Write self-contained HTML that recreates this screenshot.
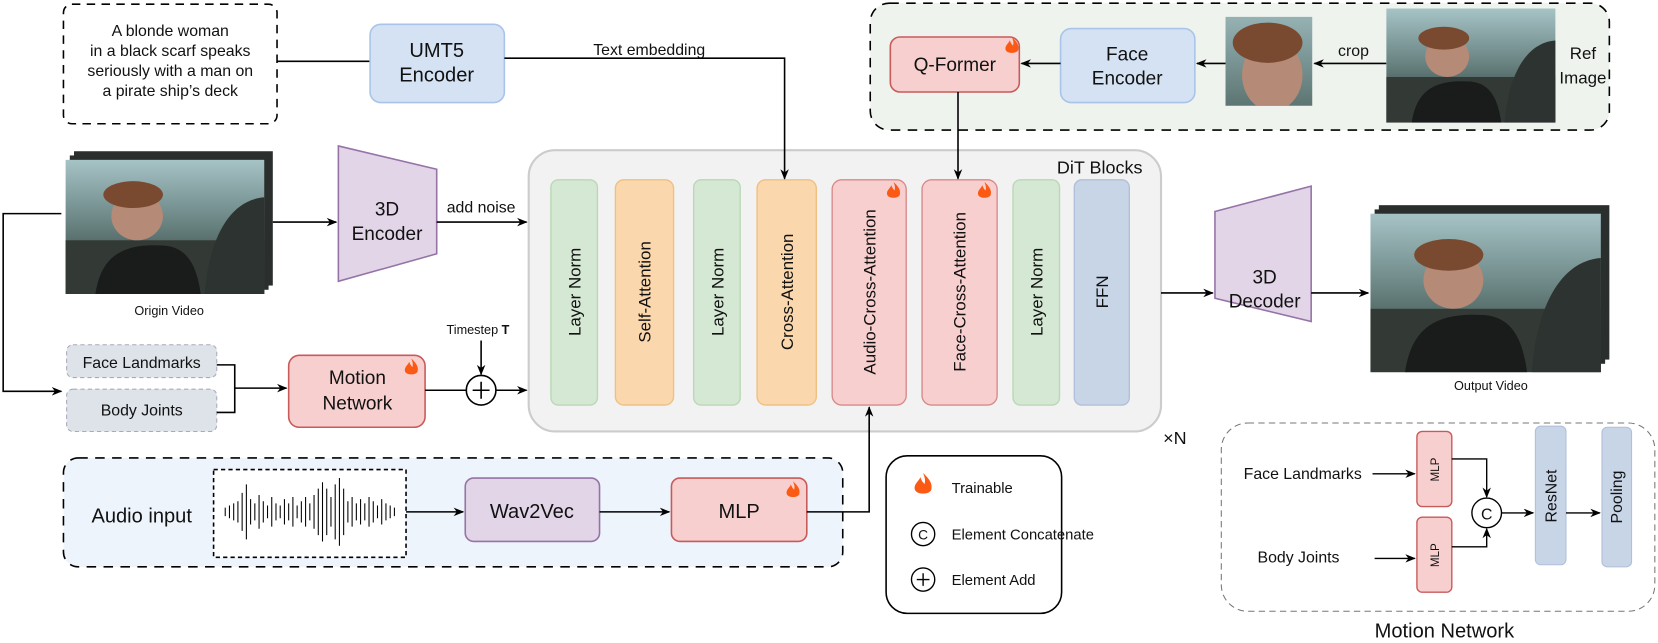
<!DOCTYPE html>
<html><head><meta charset="utf-8"><style>
html,body{margin:0;padding:0;background:#fff;}
svg{display:block;}
text{font-family:"Liberation Sans",sans-serif;fill:#111;}
</style></head><body>
<svg width="1658" height="643" viewBox="0 0 1568 608" preserveAspectRatio="none" xmlns="http://www.w3.org/2000/svg">
<defs>
<marker id="a" viewBox="0 0 10 10" refX="9" refY="5" markerWidth="10" markerHeight="10" orient="auto-start-reverse" markerUnits="userSpaceOnUse"><path d="M0,1 L10,5 L0,9 L3,5 z" fill="#000"/></marker>
<linearGradient id="ph" x1="0" y1="0" x2="0" y2="1"><stop offset="0" stop-color="#a6c3c6"/><stop offset="0.5" stop-color="#66807e"/><stop offset="1" stop-color="#252d2b"/></linearGradient>
<g id="flame"><path d="M0,-9 C4,-5 7,-2 6,3 C5,7 -5,7 -6,3 C-7,-1 -3,-3 -2,-6 C-1,-3 0,-2 1,-1 C2,-4 1,-6 0,-9 z" fill="#fb5a14"/></g>
<g id="photo">
<rect x="0" y="0" width="100" height="100" fill="url(#ph)"/>
<rect x="0" y="60" width="100" height="40" fill="#333a36"/>
<ellipse cx="36" cy="42" rx="13" ry="18" fill="#b58a76"/>
<ellipse cx="34" cy="26" rx="15" ry="10" fill="#7a4a30"/>
<path d="M15,100 C18,70 30,62 50,64 C62,66 66,80 68,100 z" fill="#1a1c1b"/>
<path d="M70,100 C72,60 82,30 100,28 L100,100 z" fill="#2c3330"/>
</g>
</defs>

<!-- text prompt -->
<rect x="60" y="4" width="202" height="113" rx="8" fill="#fff" stroke="#000" stroke-width="1.5" stroke-dasharray="8,6"/>
<g font-size="15" text-anchor="middle">
<text x="161" y="34">A blonde woman</text>
<text x="161" y="53">in a black scarf speaks</text>
<text x="161" y="72">seriously with a man on</text>
<text x="161" y="91">a pirate ship’s deck</text>
</g>
<line x1="262" y1="58" x2="350" y2="58" stroke="#000" stroke-width="1.5"/>
<rect x="350" y="23" width="127" height="74" rx="10" fill="#d4e2f4" stroke="#a9c4e8" stroke-width="1.5"/>
<text x="413" y="54" font-size="19" text-anchor="middle">UMT5</text>
<text x="413" y="77" font-size="19" text-anchor="middle">Encoder</text>
<text x="614" y="52" font-size="15" text-anchor="middle">Text  embedding</text>

<!-- ref box -->
<rect x="823" y="3" width="699" height="120" rx="18" fill="#eef3ee" stroke="#000" stroke-width="1.5" stroke-dasharray="9,7"/>
<rect x="842" y="35" width="122" height="52" rx="9" fill="#f8cfcf" stroke="#c85a5a" stroke-width="1.5"/>
<text x="903" y="67" font-size="18" text-anchor="middle">Q-Former</text>
<use href="#flame" x="957" y="44"/>
<rect x="1003" y="27" width="127" height="70" rx="10" fill="#d4e2f4" stroke="#a9c4e8" stroke-width="1.5"/>
<text x="1066" y="57" font-size="18" text-anchor="middle">Face</text>
<text x="1066" y="80" font-size="18" text-anchor="middle">Encoder</text>
<svg x="1159" y="16" width="82" height="84" viewBox="0 0 82 84"><g transform="translate(-35,-25) scale(2.2,1.9)"><use href="#photo"/></g></svg>
<svg x="1311" y="8" width="160" height="108" viewBox="0 0 100 100" preserveAspectRatio="none"><use href="#photo"/></svg>
<line x1="1311" y1="60" x2="1243" y2="60" stroke="#000" stroke-width="1.5" marker-end="url(#a)"/>
<text x="1280" y="53" font-size="15" text-anchor="middle">crop</text>
<line x1="1159" y1="60" x2="1132" y2="60" stroke="#000" stroke-width="1.5" marker-end="url(#a)"/>
<line x1="1003" y1="60" x2="966" y2="60" stroke="#000" stroke-width="1.5" marker-end="url(#a)"/>
<text x="1497" y="56" font-size="16" text-anchor="middle">Ref</text>
<text x="1497" y="79" font-size="16" text-anchor="middle">Image</text>

<!-- DiT -->
<rect x="500" y="142" width="598" height="266" rx="25" fill="#f2f2f2" stroke="#cccccc" stroke-width="2"/>
<text x="1040" y="164" font-size="17" text-anchor="middle">DiT Blocks</text>
<g stroke-width="1.3">
<rect x="521" y="170" width="44" height="213" rx="7" fill="#d5e8d4" stroke="#b9d8b5"/>
<rect x="582" y="170" width="55" height="213" rx="8" fill="#fad7ac" stroke="#efc080"/>
<rect x="656" y="170" width="44" height="213" rx="7" fill="#d5e8d4" stroke="#b9d8b5"/>
<rect x="716" y="170" width="56" height="213" rx="8" fill="#fad7ac" stroke="#efc080"/>
<rect x="787" y="170" width="70" height="213" rx="9" fill="#f8cfcf" stroke="#d88a8a"/>
<rect x="872" y="170" width="71" height="213" rx="9" fill="#f8cfcf" stroke="#d88a8a"/>
<rect x="958" y="170" width="44" height="213" rx="7" fill="#d5e8d4" stroke="#b9d8b5"/>
<rect x="1016" y="170" width="52" height="213" rx="7" fill="#c8d5e7" stroke="#b0c0da"/>
</g>
<g font-size="16" text-anchor="middle">
<text transform="translate(549,276) rotate(-90)">Layer Norm</text>
<text transform="translate(615,276) rotate(-90)">Self-Attention</text>
<text transform="translate(684,276) rotate(-90)">Layer Norm</text>
<text transform="translate(750,276) rotate(-90)">Cross-Attention</text>
<text transform="translate(828,276) rotate(-90)">Audio-Cross-Attention</text>
<text transform="translate(913,276) rotate(-90)">Face-Cross-Attention</text>
<text transform="translate(986,276) rotate(-90)">Layer Norm</text>
<text transform="translate(1048,276) rotate(-90)">FFN</text>
</g>
<use href="#flame" x="845" y="181"/>
<use href="#flame" x="931" y="181"/>
<text x="1100" y="420" font-size="17">×N</text>
<path d="M477,55 H742 V169" fill="none" stroke="#000" stroke-width="1.5" marker-end="url(#a)"/>
<line x1="906" y1="87" x2="906" y2="169" stroke="#000" stroke-width="1.5" marker-end="url(#a)"/>

<!-- origin video -->
<rect x="70" y="143" width="188" height="127" fill="#2a2f2d"/>
<rect x="66" y="147" width="188" height="127" fill="#2a2f2d"/>
<svg x="62" y="151" width="188" height="127" viewBox="0 0 100 100" preserveAspectRatio="none"><use href="#photo"/></svg>
<text x="160" y="298" font-size="12" text-anchor="middle">Origin Video</text>
<line x1="258" y1="210" x2="318" y2="210" stroke="#000" stroke-width="1.5" marker-end="url(#a)"/>
<path d="M320,138 L413,160 L413,240 L320,266 z" fill="#e1d5e7" stroke="#9673a6" stroke-width="1.5"/>
<text x="366" y="204" font-size="18" text-anchor="middle">3D</text>
<text x="366" y="227" font-size="18" text-anchor="middle">Encoder</text>
<line x1="413" y1="210" x2="498" y2="210" stroke="#000" stroke-width="1.5" marker-end="url(#a)"/>
<text x="455" y="201" font-size="15" text-anchor="middle">add noise</text>
<path d="M58,202 H3 V370 H58" fill="none" stroke="#000" stroke-width="1.5" marker-end="url(#a)"/>

<!-- motion row -->
<rect x="63" y="326" width="142" height="31" rx="6" fill="#dde3e8" stroke="#aab" stroke-width="1" stroke-dasharray="4,3"/>
<rect x="63" y="368" width="142" height="40" rx="6" fill="#dde3e8" stroke="#aab" stroke-width="1" stroke-dasharray="4,3"/>
<text x="134" y="348" font-size="15" text-anchor="middle">Face Landmarks</text>
<text x="134" y="393" font-size="15" text-anchor="middle">Body Joints</text>
<path d="M205,345 H222 V390 H205" fill="none" stroke="#000" stroke-width="1.5"/>
<line x1="222" y1="367" x2="271" y2="367" stroke="#000" stroke-width="1.5" marker-end="url(#a)"/>
<rect x="273" y="336" width="129" height="68" rx="10" fill="#f8cfcf" stroke="#c85a5a" stroke-width="1.5"/>
<text x="338" y="363" font-size="18" text-anchor="middle">Motion</text>
<text x="338" y="387" font-size="18" text-anchor="middle">Network</text>
<use href="#flame" x="389" y="348"/>
<line x1="402" y1="369" x2="441" y2="369" stroke="#000" stroke-width="1.5"/>
<circle cx="455" cy="369" r="14" fill="#fff" stroke="#000" stroke-width="1.5"/>
<path d="M447,369 H463 M455,361 V377" stroke="#000" stroke-width="1.5"/>
<text x="452" y="316" font-size="12" text-anchor="middle">Timestep <tspan font-weight="bold">T</tspan></text>
<line x1="455" y1="322" x2="455" y2="354" stroke="#000" stroke-width="1.5" marker-end="url(#a)"/>
<line x1="469" y1="369" x2="498" y2="369" stroke="#000" stroke-width="1.5" marker-end="url(#a)"/>

<!-- audio -->
<rect x="60" y="433" width="737" height="103" rx="14" fill="#eef4fc" stroke="#000" stroke-width="1.5" stroke-dasharray="9,7"/>
<text x="134" y="494" font-size="19" text-anchor="middle">Audio input</text>
<rect x="202" y="444" width="182" height="83" fill="#fff" stroke="#000" stroke-width="1.5" stroke-dasharray="4,3"/>
<g stroke="#000" stroke-width="1">
<path d="M213,480v8M217,478v12M221,476v16M225,474v20M229,466v36M233,458v52M237,472v24M241,476v16M245,468v32M249,474v20M253,478v12M257,470v28M261,476v16M265,478v12M269,472v24M273,476v16M277,470v28M281,478v12M285,474v20M289,470v28M293,476v16M297,468v32M301,462v44M305,456v56M309,462v44M313,470v28M317,458v52M321,452v64M325,462v44M329,474v20M333,470v28M337,476v16M341,472v24M345,476v16M349,470v28M353,474v20M357,478v12M361,472v24M365,476v16M369,478v12M373,480v8"/>
</g>
<line x1="384" y1="484" x2="438" y2="484" stroke="#000" stroke-width="1.5" marker-end="url(#a)"/>
<rect x="440" y="452" width="127" height="60" rx="8" fill="#e1d5e7" stroke="#9673a6" stroke-width="1.5"/>
<text x="503" y="490" font-size="19" text-anchor="middle">Wav2Vec</text>
<line x1="567" y1="484" x2="633" y2="484" stroke="#000" stroke-width="1.5" marker-end="url(#a)"/>
<rect x="635" y="452" width="128" height="60" rx="8" fill="#f8cfcf" stroke="#c85a5a" stroke-width="1.5"/>
<text x="699" y="490" font-size="19" text-anchor="middle">MLP</text>
<use href="#flame" x="750" y="464"/>
<path d="M763,484 H822 V385" fill="none" stroke="#000" stroke-width="1.5" marker-end="url(#a)"/>

<!-- legend -->
<rect x="838" y="431" width="166" height="149" rx="20" fill="#fff" stroke="#000" stroke-width="1.5"/>
<g transform="translate(873,459) scale(1.3)"><use href="#flame"/></g>
<text x="900" y="466" font-size="14">Trainable</text>
<circle cx="873" cy="505" r="11" fill="#fff" stroke="#000" stroke-width="1.3"/>
<text x="873" y="510" font-size="13" text-anchor="middle">C</text>
<text x="900" y="510" font-size="14">Element Concatenate</text>
<circle cx="873" cy="548" r="11" fill="#fff" stroke="#000" stroke-width="1.3"/>
<path d="M867,548 H879 M873,542 V554" stroke="#000" stroke-width="1.3"/>
<text x="900" y="553" font-size="14">Element Add</text>

<!-- decoder -->
<line x1="1098" y1="277" x2="1147" y2="277" stroke="#000" stroke-width="1.5" marker-end="url(#a)"/>
<path d="M1149,200 L1240,176 L1240,304 L1149,282 z" fill="#e1d5e7" stroke="#9673a6" stroke-width="1.5"/>
<text x="1196" y="268" font-size="18" text-anchor="middle">3D</text>
<text x="1196" y="291" font-size="18" text-anchor="middle">Decoder</text>
<line x1="1240" y1="277" x2="1294" y2="277" stroke="#000" stroke-width="1.5" marker-end="url(#a)"/>
<rect x="1304" y="194" width="218" height="146" fill="#2a2f2d"/>
<rect x="1300" y="198" width="218" height="146" fill="#2a2f2d"/>
<svg x="1296" y="202" width="218" height="150" viewBox="0 0 100 100" preserveAspectRatio="none"><use href="#photo"/></svg>
<text x="1410" y="369" font-size="12" text-anchor="middle">Output Video</text>

<!-- motion detail -->
<rect x="1155" y="400" width="410" height="178" rx="25" fill="#fff" stroke="#777" stroke-width="1" stroke-dasharray="6,4"/>
<text x="1232" y="453" font-size="15" text-anchor="middle">Face Landmarks</text>
<text x="1228" y="532" font-size="15" text-anchor="middle">Body Joints</text>
<line x1="1298" y1="448" x2="1338" y2="448" stroke="#000" stroke-width="1.3" marker-end="url(#a)"/>
<line x1="1300" y1="528" x2="1338" y2="528" stroke="#000" stroke-width="1.3" marker-end="url(#a)"/>
<rect x="1340" y="408" width="33" height="71" rx="5" fill="#f8cfcf" stroke="#c85a5a" stroke-width="1.3"/>
<rect x="1340" y="489" width="33" height="71" rx="5" fill="#f8cfcf" stroke="#c85a5a" stroke-width="1.3"/>
<text transform="translate(1361,444) rotate(-90)" font-size="11" text-anchor="middle">MLP</text>
<text transform="translate(1361,525) rotate(-90)" font-size="11" text-anchor="middle">MLP</text>
<path d="M1373,434 H1406 V470" fill="none" stroke="#000" stroke-width="1.3" marker-end="url(#a)"/>
<path d="M1373,517 H1406 V500" fill="none" stroke="#000" stroke-width="1.3" marker-end="url(#a)"/>
<circle cx="1406" cy="485" r="14" fill="#fff" stroke="#000" stroke-width="1.3"/>
<text x="1406" y="491" font-size="15" text-anchor="middle">C</text>
<line x1="1420" y1="485" x2="1450" y2="485" stroke="#000" stroke-width="1.3" marker-end="url(#a)"/>
<rect x="1452" y="403" width="29" height="131" rx="5" fill="#c8d5e7" stroke="#b0c0da"/>
<text transform="translate(1472,469) rotate(-90)" font-size="15" text-anchor="middle">ResNet</text>
<line x1="1481" y1="485" x2="1513" y2="485" stroke="#000" stroke-width="1.3" marker-end="url(#a)"/>
<rect x="1515" y="404" width="28" height="132" rx="5" fill="#c8d5e7" stroke="#b0c0da"/>
<text transform="translate(1534,470) rotate(-90)" font-size="15" text-anchor="middle">Pooling</text>
<text x="1366" y="603" font-size="19" text-anchor="middle">Motion Network</text>
</svg>
</body></html>
